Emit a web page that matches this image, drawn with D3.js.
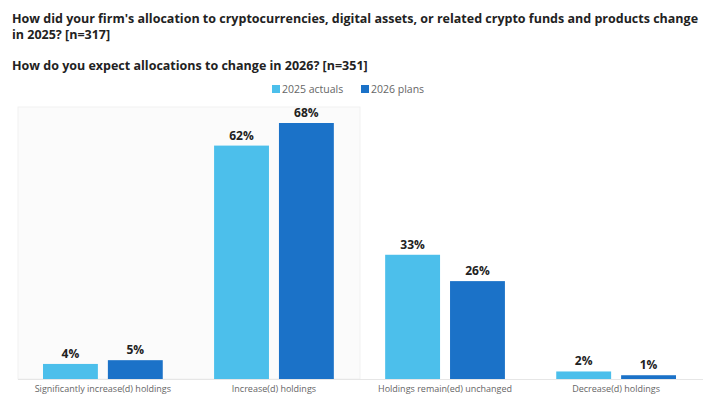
<!DOCTYPE html>
<html>
<head>
<meta charset="utf-8">
<script src="https://cdn.jsdelivr.net/npm/d3@7"></script>
<style>
  body { margin: 0; background: #fff; }
  svg { display: block; }
</style>
</head>
<body>
<script>
// data
const categories = ["Significantly increase(d) holdings", "Increase(d) holdings",
  "Holdings remain(ed) unchanged", "Decrease(d) holdings"];
const seriesNames = ["2025 actuals", "2026 plans"];
const actuals2025 = [4, 62, 33, 2];
const plans2026 = [5, 68, 26, 1];
const titleLines = [
  "How did your firm's allocation to cryptocurrencies, digital assets, or related crypto funds and products change",
  "in 2025? [n=317]",
  "How do you expect allocations to change in 2026? [n=351]"
];

const width = 720, height = 412;
const colors = ["#4cbfeb", "#1b72c8"];
const fontTitle = "'Open Sans', 'Liberation Sans', sans-serif";

const svg = d3.select("body").append("svg")
  .attr("width", width)
  .attr("height", height);

// faint panel behind the left part of the plot
svg.append("rect")
  .attr("x", 18).attr("y", 107)
  .attr("width", 342).attr("height", 272)
  .attr("fill", "#fbfbfb")
  .attr("stroke", "#f1f1f1");

// title
const titleY = [23, 39, 70];
svg.selectAll("text.title")
  .data(titleLines)
  .join("text")
  .attr("class", "title")
  .attr("x", 12)
  .attr("y", (d, i) => titleY[i])
  .attr("font-family", fontTitle)
  .attr("font-weight", "bold")
  .attr("font-size", 12.5)
  .attr("fill", "#222")
  .text(d => d)
  .each(function(d, i) {
    if (i === 0) {
      // squeeze the long first line into the reference width
      const w = this.getComputedTextLength();
      if (w > 695) d3.select(this).attr("textLength", 695).attr("lengthAdjust", "spacingAndGlyphs");
    }
  });

// legend
const legend = svg.append("g").attr("class", "legend");
const legendX = [272, 361];
seriesNames.forEach(function(name, i) {
  legend.append("rect")
    .attr("x", legendX[i]).attr("y", 85)
    .attr("width", 8).attr("height", 8)
    .attr("fill", colors[i]);
  legend.append("text")
    .attr("x", legendX[i] + 10).attr("y", 93)
    .attr("font-family", "'Open Sans', sans-serif")
    .attr("font-size", 10.5)
    .attr("fill", "#666")
    .text(name);
});

// scales
const x0 = d3.scaleBand()
  .domain(categories)
  .range([43, 676])
  .paddingInner(0.3)
  .paddingOuter(0);

const x1 = d3.scaleBand()
  .domain(seriesNames)
  .range([0, x0.bandwidth()])
  .paddingInner(0.154);

const y = d3.scaleLinear()
  .domain([0, 68])
  .range([379, 123]);

const rows = categories.map((c, i) => ({
  cat: c,
  vals: [actuals2025[i], plans2026[i]]
}));

const groups = svg.selectAll("g.grp")
  .data(rows)
  .join("g")
  .attr("class", "grp")
  .attr("transform", d => "translate(" + x0(d.cat) + ",0)");

groups.selectAll("rect")
  .data(d => d.vals.map((v, j) => ({ s: seriesNames[j], v: v, j: j })))
  .join("rect")
  .attr("x", d => x1(d.s))
  .attr("y", d => y(d.v))
  .attr("width", x1.bandwidth())
  .attr("height", d => y(0) - y(d.v))
  .attr("fill", d => colors[d.j]);

groups.selectAll("text.val")
  .data(d => d.vals.map((v, j) => ({ s: seriesNames[j], v: v })))
  .join("text")
  .attr("class", "val")
  .attr("x", d => x1(d.s) + x1.bandwidth() / 2)
  .attr("y", d => y(d.v) - 6)
  .attr("text-anchor", "middle")
  .attr("font-family", fontTitle)
  .attr("font-weight", "bold")
  .attr("font-size", 12)
  .attr("fill", "#222")
  .text(d => d.v + "%");

// baseline
svg.append("line")
  .attr("x1", 18).attr("x2", 703)
  .attr("y1", 379.5).attr("y2", 379.5)
  .attr("stroke", "#e6e6e6");

// category labels
svg.selectAll("text.cat")
  .data(categories)
  .join("text")
  .attr("class", "cat")
  .attr("x", d => x0(d) + x0.bandwidth() / 2)
  .attr("y", 392)
  .attr("text-anchor", "middle")
  .attr("font-family", "'Open Sans', sans-serif")
  .attr("font-size", 9)
  .attr("fill", "#666")
  .text(d => d);
</script>
</body>
</html>
